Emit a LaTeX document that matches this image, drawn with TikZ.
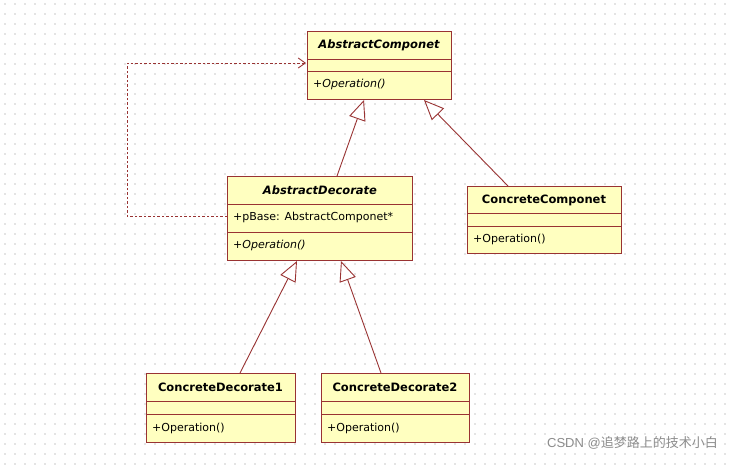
\documentclass[tikz,border=0pt]{standalone}
\usepackage{fontspec}
\setmainfont{DejaVu Sans}
\newfontfamily\lib{Liberation Sans}
\newfontfamily\cjk{Noto Sans CJK SC}
\usetikzlibrary{arrows.meta}
\definecolor{umlb}{HTML}{993333}
\definecolor{umlf}{HTML}{FFFFC0}
\tikzset{
 x=1pt,y=-1pt,
 boxc/.style={draw=umlb,fill=umlf,line width=1pt},
 rowl/.style={draw=umlb,line width=1pt},
 ttl/.style={font=\fontsize{11.5}{14}\selectfont\bfseries\itshape,anchor=center},
 ttln/.style={font=\fontsize{11.5}{14}\selectfont\bfseries,anchor=center},
 txt/.style={font=\fontsize{11}{14}\selectfont,anchor=west,inner sep=0},
 itx/.style={txt,font=\fontsize{11}{14}\selectfont\itshape},
 gen/.style={draw=umlb,line width=0.9pt,-{Triangle[open,length=20pt,width=17pt,fill=white]}},
}
\newcommand{\umlbox}[7]{%
 \path[boxc] (#2,#3) rectangle (#4,#5);
 \draw[rowl] (#2,#6) -- (#4,#6);
 \draw[rowl] (#2,#7) -- (#4,#7);
}
\begin{document}
\begin{tikzpicture}
\useasboundingbox (0,0) rectangle (730,464);
\fill[white] (0,0) rectangle (730,464);
\foreach \i in {0,...,72}{\foreach \j in {0,...,46}{\fill[black!45] (\i*10+5,\j*10+4) circle (0.55);}}
\umlbox{ac}{307}{31}{451}{99}{59}{71}
\node[ttl] (act) at (379,45) {AbstractComponet};
\node[itx] (aco) at (313,84) {+Operation()};
\umlbox{ad}{227}{176}{412}{260}{204}{232}
\node[ttl] (adt) at (320,190) {AbstractDecorate};
\node[txt] (adp) at (233,217) {+pBase: AbstractComponet*};
\node[itx] (ado) at (233,245) {+Operation()};
\umlbox{cc}{467}{186}{621}{253}{213}{226}
\node[ttln] (cct) at (544,200) {ConcreteComponet};
\node[txt] (cco) at (473,239) {+Operation()};
\umlbox{cd1}{146}{373}{295}{442}{401}{414}
\node[ttln] (cd1t) at (220.5,387) {ConcreteDecorate1};
\node[txt] (cd1o) at (152,428) {+Operation()};
\umlbox{cd2}{321}{373}{469}{442}{401}{414}
\node[ttln] (cd2t) at (395,387) {ConcreteDecorate2};
\node[txt] (cd2o) at (327,428) {+Operation()};
\coordinate (a1) at (364,100); \coordinate (a2) at (424,100);
\coordinate (d1) at (297,261); \coordinate (d2) at (341,261);
\coordinate (s1) at (337,176); \coordinate (s2) at (508,186);
\coordinate (s3) at (240,373); \coordinate (s4) at (381,373);
\draw[gen] (s1) -- (a1);
\draw[gen] (s2) -- (a2);
\draw[gen] (s3) -- (d1);
\draw[gen] (s4) -- (d2);
\coordinate (p0) at (227,216); \coordinate (p3) at (306,63);
\draw[draw=umlb,line width=0.9pt,dash pattern=on 2.5pt off 2pt,-{Straight Barb[length=7pt,width=10pt]}]
 (p0) -- (127,216) -- (127,63) -- (p3);
\node[font=\lib\fontsize{13}{15}\selectfont,text=black!45,anchor=east,inner sep=0] (wm) at (718,443) {CSDN @{\cjk 追梦路上的技术小白}};
\end{tikzpicture}
\end{document}
